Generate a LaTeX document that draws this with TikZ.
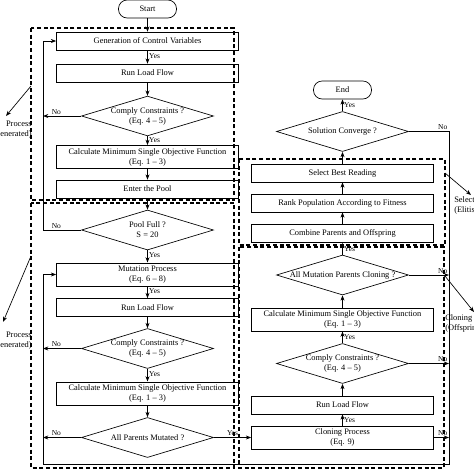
\documentclass[tikz,border=0pt]{standalone}
\usepackage{fontspec}
\setmainfont{Liberation Serif}
\usetikzlibrary{shapes.geometric,arrows.meta}

\begin{document}
\begin{tikzpicture}[x=0.75pt, y=-0.75pt,
  every node/.style={font=\fontsize{6.3}{7.5}\selectfont},
  procbox/.style={draw, line width=0.5pt, minimum width=136.5pt, minimum height=13.5pt, inner sep=0pt, align=center},
  tallbox/.style={procbox, minimum height=17.5pt},
  decision/.style={draw, diamond, line width=0.5pt, aspect=3.3, inner sep=0pt, minimum width=99pt, minimum height=30pt, align=center},
  terminal/.style={draw, rounded corners=6.5pt, line width=0.5pt, minimum width=43.5pt, minimum height=13.5pt, inner sep=0pt},
  flow/.style={line width=0.5pt, -{Stealth[length=4pt, width=3pt]}},
  lbl/.style={font=\fontsize{5.6}{6}\selectfont, inner sep=1pt},
  group/.style={densely dashed, line width=0.8pt},
  note/.style={inner sep=0pt}
]

\useasboundingbox (0,0) rectangle (474,476);
\clip (0,0) rectangle (474,476);

% Dashed Groups
\draw[group] (31,28) rectangle (234,200);
\draw[group] (31,203) rectangle (234,468);
\draw[group] (239,159) rectangle (445,245);
\draw[group] (239,247) rectangle (444,468);

% Left Column (Generation & Mutation)
\node[terminal] (start) at (147.5,9) {Start};
\node[procbox] (gen) at (147.5,41) {Generation of Control Variables};
\node[procbox] (load1) at (147.5,73) {Run Load Flow};
\node[decision, minimum height=25.5pt] (comply1) at (147.5,116) {Comply Constraints ?\\(Eq. 4 -- 5)};
\node[tallbox] (calc1) at (147.5,157) {Calculate Minimum Single Objective Function\\(Eq. 1 -- 3)};
\node[procbox] (pool) at (147.5,189) {Enter the Pool};
\node[decision] (full) at (147.5,230) {Pool Full ?\\S = 20};
\node[tallbox] (mut) at (147.5,274.5) {Mutation Process\\(Eq. 6 -- 8)};
\node[procbox] (load2) at (147.5,307.5) {Run Load Flow};
\node[decision] (comply2) at (147.5,348.5) {Comply Constraints ?\\(Eq. 4 -- 5)};
\node[tallbox] (calc2) at (147.5,393.5) {Calculate Minimum Single Objective Function\\(Eq. 1 -- 3)};
\node[decision] (allmut) at (147.5,437.5) {All Parents Mutated ?};

% Right Column (Cloning & Elitism), bottom to top
\node[tallbox] (clone) at (342.5,437.5) {Cloning Process\\(Eq. 9)};
\node[procbox] (load3) at (342.5,405) {Run Load Flow};
\node[decision] (comply3) at (342.5,363.5) {Comply Constraints ?\\(Eq. 4 -- 5)};
\node[tallbox] (calc3) at (342.5,319.5) {Calculate Minimum Single Objective Function\\(Eq. 1 -- 3)};
\node[decision] (allclone) at (342.5,275) {All Mutation Parents Cloning ?};
\node[procbox] (combine) at (342.5,233.5) {Combine Parents and Offspring};
\node[procbox] (rank) at (342.5,203) {Rank Population According to Fitness};
\node[procbox] (best) at (342.5,173) {Select Best Reading};
\node[decision] (conv) at (342.5,131.5) {Solution Converge ?};
\node[terminal] (end) at (342.5,90) {End};

% Loop corners
\coordinate (loopL) at (43,464);
\coordinate (loopR) at (449,464);

% Downward flow (left)
\foreach \a/\b in {start/gen, load1/comply1, calc1/pool, pool/full, load2/comply2, calc2/allmut}
  \draw[flow] (\a.south) -- (\b.north);
\foreach \a/\b in {gen/load1, comply1/calc1, full/mut, mut/load2, comply2/calc2}
  \draw[flow] (\a.south) -- node[lbl, right, pos=0.4] {Yes} (\b.north);

% Upward flow (right)
\foreach \a/\b in {load3/comply3, calc3/allclone, combine/rank, rank/best, best/conv}
  \draw[flow] (\a.north) -- (\b.south);
\foreach \a/\b in {clone/load3, comply3/calc3, allclone/combine, conv/end}
  \draw[flow] (\a.north) -- node[lbl, right, pos=0.5] {Yes} (\b.south);

\draw[flow] (allmut.east) -- node[lbl, above] {Yes} (clone.west);

% No branches
\foreach \d in {comply1, comply2, allmut}
  \draw[flow] (\d.west) -- node[lbl, above, pos=0.65] {No} (\d.west -| loopL);
\draw[flow] (full.west) -- node[lbl, above, pos=0.65] {No} (full.west -| loopL) |- (gen.west);
\foreach \d in {allclone, comply3, clone}
  \draw[flow] (\d.east) -- node[lbl, anchor=south east, pos=1] {No} (\d.east -| loopR);
\draw[flow] (conv.east) -| node[lbl, anchor=south east, pos=0.5] {No} (loopR) -- (loopL) |- (mut.west);

% Side notes
\coordinate (genTail) at (31,86);
\coordinate (genTip) at (6,116);
\node[note, anchor=north east, align=right] (genNote) at (32,121) {Process\\(Generated)};
\draw[flow] (genTail) -- (genTip);

\coordinate (mutTail) at (31,256);
\coordinate (mutTip) at (3,322);
\node[note, anchor=north east, align=right] (mutNote) at (32,332) {Process\\(Generated)};
\draw[flow] (mutTail) -- (mutTip);

\coordinate (eliTail) at (445,173);
\coordinate (eliTip) at (471,195);
\node[note, anchor=north west, align=left] (eliNote) at (454,196) {Selection\\(Elitism)};
\draw[flow] (eliTail) -- (eliTip);

\coordinate (cloTail) at (445,276);
\coordinate (cloTip) at (474,312);
\node[note, anchor=north west, align=left] (cloNote) at (445,314) {Cloning Process\\(Offspring)};
\draw[flow] (cloTail) -- (cloTip);

\end{tikzpicture}
\end{document}
